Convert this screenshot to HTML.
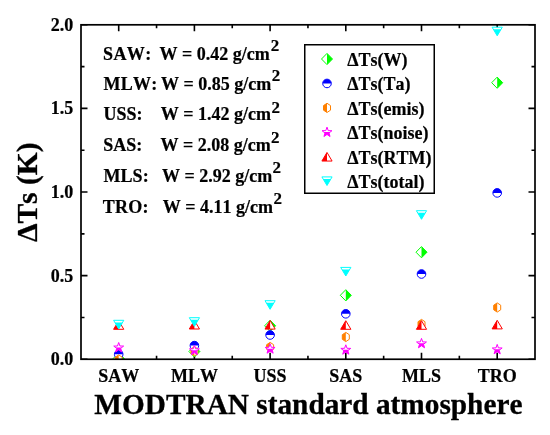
<!DOCTYPE html><html><head><meta charset="utf-8"><style>html,body{margin:0;padding:0;background:#fff;}svg{display:block;}text{font-family:"Liberation Serif","Times New Roman",serif;font-weight:bold;fill:#000;font-kerning:none;font-feature-settings:"kern" 0;stroke:#000;stroke-width:0.2px;}</style></head><body>
<svg width="550" height="435" viewBox="0 0 550 435">
<rect x="0" y="0" width="550" height="435" fill="#fff"/>
<text x="73.2" y="365.1" text-anchor="end" font-size="18">0.0</text>
<text x="73.2" y="281.5" text-anchor="end" font-size="18">0.5</text>
<text x="73.2" y="197.9" text-anchor="end" font-size="18">1.0</text>
<text x="73.2" y="114.3" text-anchor="end" font-size="18">1.5</text>
<text x="73.2" y="30.7" text-anchor="end" font-size="18">2.0</text>
<text x="118.7" y="381.9" text-anchor="middle" font-size="18">SAW</text>
<text x="194.4" y="381.9" text-anchor="middle" font-size="18">MLW</text>
<text x="270.1" y="381.9" text-anchor="middle" font-size="18">USS</text>
<text x="345.8" y="381.9" text-anchor="middle" font-size="18">SAS</text>
<text x="421.5" y="381.9" text-anchor="middle" font-size="18">MLS</text>
<text x="497.2" y="381.9" text-anchor="middle" font-size="18">TRO</text>
<text x="308.4" y="414.4" text-anchor="middle" font-size="29.3" style="stroke-width:0.3px">MODTRAN standard atmosphere</text>
<text transform="translate(37.1,192.3) rotate(-90)" text-anchor="middle" font-size="29.5" style="stroke-width:0.3px">ΔTs (K)</text>
<text x="103.1" y="60.0" font-size="18" letter-spacing="0.35">SAW:</text>
<text x="159.6" y="60.0" font-size="18">W = 0.42 g/cm</text>
<text x="270.8" y="51.0" font-size="17">2</text>
<text x="103.6" y="90.2" font-size="18" letter-spacing="0.25">MLW:</text>
<text x="161.0" y="90.2" font-size="18">W = 0.85 g/cm</text>
<text x="271.7" y="81.2" font-size="17">2</text>
<text x="103.6" y="120.4" font-size="18" letter-spacing="0">USS:</text>
<text x="160.8" y="120.4" font-size="18">W = 1.42 g/cm</text>
<text x="271.5" y="112.6" font-size="17">2</text>
<text x="103.2" y="150.7" font-size="18" letter-spacing="0">SAS:</text>
<text x="160.5" y="150.7" font-size="18">W = 2.08 g/cm</text>
<text x="271.0" y="142.6" font-size="17">2</text>
<text x="103.4" y="181.6" font-size="18" letter-spacing="0.1">MLS:</text>
<text x="162.0" y="181.6" font-size="18">W = 2.92 g/cm</text>
<text x="272.5" y="173.3" font-size="17">2</text>
<text x="102.7" y="212.5" font-size="18" letter-spacing="0.3">TRO:</text>
<text x="162.7" y="212.5" font-size="18">W = 4.11 g/cm</text>
<text x="273.5" y="204.3" font-size="17">2</text>
<rect x="304.75" y="44.75" width="129.5" height="148.5" fill="#fff" stroke="#000" stroke-width="1.5"/>
<polygon points="327.00,53.40 332.50,59.00 327.00,64.60 321.50,59.00" fill="#fff"/><polygon points="327.00,53.40 332.50,59.00 327.00,64.60" fill="#00ff00"/><polygon points="327.00,53.40 332.50,59.00 327.00,64.60 321.50,59.00" fill="none" stroke="#00ff00" stroke-width="1.0"/>
<text x="347.2" y="65.7" font-size="18">ΔTs(W)</text>
<circle cx="327.00" cy="83.44" r="4.3" fill="#fff"/><path d="M322.70,83.44 A4.3,4.3 0 0 1 331.30,83.44 Z" fill="#0000ff"/><circle cx="327.00" cy="83.44" r="4.3" fill="none" stroke="#0000ff" stroke-width="1.0"/>
<text x="347.2" y="90.1" font-size="18">ΔTs(Ta)</text>
<polygon points="327.00,103.28 330.50,105.58 330.50,110.18 327.00,112.48 323.50,110.18 323.50,105.58" fill="#fff"/><polygon points="327.00,103.28 327.00,112.48 323.50,110.18 323.50,105.58" fill="#ff8000"/><polygon points="327.00,103.28 330.50,105.58 330.50,110.18 327.00,112.48 323.50,110.18 323.50,105.58" fill="none" stroke="#ff8000" stroke-width="1.0"/>
<text x="347.2" y="114.6" font-size="18">ΔTs(emis)</text>
<polygon points="327.00,127.12 328.23,130.62 331.95,130.71 329.00,132.97 330.06,136.53 327.00,134.42 323.94,136.53 325.00,132.97 322.05,130.71 325.77,130.62" fill="#fff"/><polygon points="330.24,132.02 329.00,132.97 330.06,136.53 327.00,134.42 323.94,136.53 325.00,132.97 323.76,132.02" fill="#ff00ff"/><polygon points="327.00,127.12 328.23,130.62 331.95,130.71 329.00,132.97 330.06,136.53 327.00,134.42 323.94,136.53 325.00,132.97 322.05,130.71 325.77,130.62" fill="none" stroke="#ff00ff" stroke-width="1.0"/>
<text x="347.2" y="139.0" font-size="18">ΔTs(noise)</text>
<polygon points="327.00,152.46 332.10,161.06 321.90,161.06" fill="#fff"/><polygon points="327.00,152.46 327.00,161.06 321.90,161.06" fill="#ff0000"/><polygon points="327.00,152.46 332.10,161.06 321.90,161.06" fill="none" stroke="#ff0000" stroke-width="1.0"/>
<text x="347.2" y="163.5" font-size="18">ΔTs(RTM)</text>
<polygon points="321.90,176.90 332.10,176.90 327.00,185.50" fill="#fff"/><polygon points="330.85,179.00 327.00,185.50 323.15,179.00" fill="#00ffff"/><polygon points="321.90,176.90 332.10,176.90 327.00,185.50" fill="none" stroke="#00ffff" stroke-width="1.0"/>
<text x="347.2" y="187.9" font-size="18">ΔTs(total)</text>
<path d="M118.7,359.25 v-6.5 M118.7,24.8 v6.5 M156.55,359.25 v-3.5 M156.55,24.8 v3.5 M194.4,359.25 v-6.5 M194.4,24.8 v6.5 M232.25,359.25 v-3.5 M232.25,24.8 v3.5 M270.1,359.25 v-6.5 M270.1,24.8 v6.5 M307.95000000000005,359.25 v-3.5 M307.95000000000005,24.8 v3.5 M345.8,359.25 v-6.5 M345.8,24.8 v6.5 M383.65000000000003,359.25 v-3.5 M383.65000000000003,24.8 v3.5 M421.5,359.25 v-6.5 M421.5,24.8 v6.5 M459.35,359.25 v-3.5 M459.35,24.8 v3.5 M497.2,359.25 v-6.5 M497.2,24.8 v6.5 M81,359.25 h6.5 M535,359.25 h-6.5 M81,317.44375 h3.5 M535,317.44375 h-3.5 M81,275.6375 h6.5 M535,275.6375 h-6.5 M81,233.83125 h3.5 M535,233.83125 h-3.5 M81,192.025 h6.5 M535,192.025 h-6.5 M81,150.21875 h3.5 M535,150.21875 h-3.5 M81,108.41250000000002 h6.5 M535,108.41250000000002 h-6.5 M81,66.60624999999999 h3.5 M535,66.60624999999999 h-3.5 M81,24.80000000000001 h6.5 M535,24.80000000000001 h-6.5" stroke="#000" stroke-width="1.6" fill="none"/>
<clipPath id="pa"><rect x="81" y="24.8" width="454" height="334.45"/></clipPath><g clip-path="url(#pa)">
<polygon points="118.70,352.90 124.20,358.50 118.70,364.10 113.20,358.50" fill="#fff"/><polygon points="118.70,352.90 124.20,358.50 118.70,364.10" fill="#00ff00"/><polygon points="118.70,352.90 124.20,358.50 118.70,364.10 113.20,358.50" fill="none" stroke="#00ff00" stroke-width="1.0"/>
<polygon points="194.40,345.90 199.90,351.50 194.40,357.10 188.90,351.50" fill="#fff"/><polygon points="194.40,345.90 199.90,351.50 194.40,357.10" fill="#00ff00"/><polygon points="194.40,345.90 199.90,351.50 194.40,357.10 188.90,351.50" fill="none" stroke="#00ff00" stroke-width="1.0"/>
<polygon points="270.10,320.20 275.60,325.80 270.10,331.40 264.60,325.80" fill="#fff"/><polygon points="270.10,320.20 275.60,325.80 270.10,331.40" fill="#00ff00"/><polygon points="270.10,320.20 275.60,325.80 270.10,331.40 264.60,325.80" fill="none" stroke="#00ff00" stroke-width="1.0"/>
<polygon points="345.80,289.70 351.30,295.30 345.80,300.90 340.30,295.30" fill="#fff"/><polygon points="345.80,289.70 351.30,295.30 345.80,300.90" fill="#00ff00"/><polygon points="345.80,289.70 351.30,295.30 345.80,300.90 340.30,295.30" fill="none" stroke="#00ff00" stroke-width="1.0"/>
<polygon points="421.50,246.60 427.00,252.20 421.50,257.80 416.00,252.20" fill="#fff"/><polygon points="421.50,246.60 427.00,252.20 421.50,257.80" fill="#00ff00"/><polygon points="421.50,246.60 427.00,252.20 421.50,257.80 416.00,252.20" fill="none" stroke="#00ff00" stroke-width="1.0"/>
<polygon points="497.20,77.10 502.70,82.70 497.20,88.30 491.70,82.70" fill="#fff"/><polygon points="497.20,77.10 502.70,82.70 497.20,88.30" fill="#00ff00"/><polygon points="497.20,77.10 502.70,82.70 497.20,88.30 491.70,82.70" fill="none" stroke="#00ff00" stroke-width="1.0"/>
<circle cx="118.70" cy="354.30" r="4.3" fill="#fff"/><path d="M114.40,354.30 A4.3,4.3 0 0 1 123.00,354.30 Z" fill="#0000ff"/><circle cx="118.70" cy="354.30" r="4.3" fill="none" stroke="#0000ff" stroke-width="1.0"/>
<circle cx="194.40" cy="345.60" r="4.3" fill="#fff"/><path d="M190.10,345.60 A4.3,4.3 0 0 1 198.70,345.60 Z" fill="#0000ff"/><circle cx="194.40" cy="345.60" r="4.3" fill="none" stroke="#0000ff" stroke-width="1.0"/>
<circle cx="270.10" cy="335.00" r="4.3" fill="#fff"/><path d="M265.80,335.00 A4.3,4.3 0 0 1 274.40,335.00 Z" fill="#0000ff"/><circle cx="270.10" cy="335.00" r="4.3" fill="none" stroke="#0000ff" stroke-width="1.0"/>
<circle cx="345.80" cy="313.80" r="4.3" fill="#fff"/><path d="M341.50,313.80 A4.3,4.3 0 0 1 350.10,313.80 Z" fill="#0000ff"/><circle cx="345.80" cy="313.80" r="4.3" fill="none" stroke="#0000ff" stroke-width="1.0"/>
<circle cx="421.50" cy="274.00" r="4.3" fill="#fff"/><path d="M417.20,274.00 A4.3,4.3 0 0 1 425.80,274.00 Z" fill="#0000ff"/><circle cx="421.50" cy="274.00" r="4.3" fill="none" stroke="#0000ff" stroke-width="1.0"/>
<circle cx="497.20" cy="192.90" r="4.3" fill="#fff"/><path d="M492.90,192.90 A4.3,4.3 0 0 1 501.50,192.90 Z" fill="#0000ff"/><circle cx="497.20" cy="192.90" r="4.3" fill="none" stroke="#0000ff" stroke-width="1.0"/>
<polygon points="118.70,354.90 122.20,357.20 122.20,361.80 118.70,364.10 115.20,361.80 115.20,357.20" fill="#fff"/><polygon points="118.70,354.90 118.70,364.10 115.20,361.80 115.20,357.20" fill="#ff8000"/><polygon points="118.70,354.90 122.20,357.20 122.20,361.80 118.70,364.10 115.20,361.80 115.20,357.20" fill="none" stroke="#ff8000" stroke-width="1.0"/>
<polygon points="194.40,346.70 197.90,349.00 197.90,353.60 194.40,355.90 190.90,353.60 190.90,349.00" fill="#fff"/><polygon points="194.40,346.70 194.40,355.90 190.90,353.60 190.90,349.00" fill="#ff8000"/><polygon points="194.40,346.70 197.90,349.00 197.90,353.60 194.40,355.90 190.90,353.60 190.90,349.00" fill="none" stroke="#ff8000" stroke-width="1.0"/>
<polygon points="270.10,342.40 273.60,344.70 273.60,349.30 270.10,351.60 266.60,349.30 266.60,344.70" fill="#fff"/><polygon points="270.10,342.40 270.10,351.60 266.60,349.30 266.60,344.70" fill="#ff8000"/><polygon points="270.10,342.40 273.60,344.70 273.60,349.30 270.10,351.60 266.60,349.30 266.60,344.70" fill="none" stroke="#ff8000" stroke-width="1.0"/>
<polygon points="345.80,332.40 349.30,334.70 349.30,339.30 345.80,341.60 342.30,339.30 342.30,334.70" fill="#fff"/><polygon points="345.80,332.40 345.80,341.60 342.30,339.30 342.30,334.70" fill="#ff8000"/><polygon points="345.80,332.40 349.30,334.70 349.30,339.30 345.80,341.60 342.30,339.30 342.30,334.70" fill="none" stroke="#ff8000" stroke-width="1.0"/>
<polygon points="421.50,319.40 425.00,321.70 425.00,326.30 421.50,328.60 418.00,326.30 418.00,321.70" fill="#fff"/><polygon points="421.50,319.40 421.50,328.60 418.00,326.30 418.00,321.70" fill="#ff8000"/><polygon points="421.50,319.40 425.00,321.70 425.00,326.30 421.50,328.60 418.00,326.30 418.00,321.70" fill="none" stroke="#ff8000" stroke-width="1.0"/>
<polygon points="497.20,302.90 500.70,305.20 500.70,309.80 497.20,312.10 493.70,309.80 493.70,305.20" fill="#fff"/><polygon points="497.20,302.90 497.20,312.10 493.70,309.80 493.70,305.20" fill="#ff8000"/><polygon points="497.20,302.90 500.70,305.20 500.70,309.80 497.20,312.10 493.70,309.80 493.70,305.20" fill="none" stroke="#ff8000" stroke-width="1.0"/>
<polygon points="118.70,342.50 119.93,346.00 123.65,346.09 120.70,348.35 121.76,351.91 118.70,349.80 115.64,351.91 116.70,348.35 113.75,346.09 117.47,346.00" fill="#fff"/><polygon points="121.94,347.40 120.70,348.35 121.76,351.91 118.70,349.80 115.64,351.91 116.70,348.35 115.46,347.40" fill="#ff00ff"/><polygon points="118.70,342.50 119.93,346.00 123.65,346.09 120.70,348.35 121.76,351.91 118.70,349.80 115.64,351.91 116.70,348.35 113.75,346.09 117.47,346.00" fill="none" stroke="#ff00ff" stroke-width="1.0"/>
<polygon points="194.40,345.30 195.63,348.80 199.35,348.89 196.40,351.15 197.46,354.71 194.40,352.60 191.34,354.71 192.40,351.15 189.45,348.89 193.17,348.80" fill="#fff"/><polygon points="197.64,350.20 196.40,351.15 197.46,354.71 194.40,352.60 191.34,354.71 192.40,351.15 191.16,350.20" fill="#ff00ff"/><polygon points="194.40,345.30 195.63,348.80 199.35,348.89 196.40,351.15 197.46,354.71 194.40,352.60 191.34,354.71 192.40,351.15 189.45,348.89 193.17,348.80" fill="none" stroke="#ff00ff" stroke-width="1.0"/>
<polygon points="270.10,343.80 271.33,347.30 275.05,347.39 272.10,349.65 273.16,353.21 270.10,351.10 267.04,353.21 268.10,349.65 265.15,347.39 268.87,347.30" fill="#fff"/><polygon points="273.34,348.70 272.10,349.65 273.16,353.21 270.10,351.10 267.04,353.21 268.10,349.65 266.86,348.70" fill="#ff00ff"/><polygon points="270.10,343.80 271.33,347.30 275.05,347.39 272.10,349.65 273.16,353.21 270.10,351.10 267.04,353.21 268.10,349.65 265.15,347.39 268.87,347.30" fill="none" stroke="#ff00ff" stroke-width="1.0"/>
<polygon points="345.80,344.80 347.03,348.30 350.75,348.39 347.80,350.65 348.86,354.21 345.80,352.10 342.74,354.21 343.80,350.65 340.85,348.39 344.57,348.30" fill="#fff"/><polygon points="349.04,349.70 347.80,350.65 348.86,354.21 345.80,352.10 342.74,354.21 343.80,350.65 342.56,349.70" fill="#ff00ff"/><polygon points="345.80,344.80 347.03,348.30 350.75,348.39 347.80,350.65 348.86,354.21 345.80,352.10 342.74,354.21 343.80,350.65 340.85,348.39 344.57,348.30" fill="none" stroke="#ff00ff" stroke-width="1.0"/>
<polygon points="421.50,338.40 422.73,341.90 426.45,341.99 423.50,344.25 424.56,347.81 421.50,345.70 418.44,347.81 419.50,344.25 416.55,341.99 420.27,341.90" fill="#fff"/><polygon points="424.74,343.30 423.50,344.25 424.56,347.81 421.50,345.70 418.44,347.81 419.50,344.25 418.26,343.30" fill="#ff00ff"/><polygon points="421.50,338.40 422.73,341.90 426.45,341.99 423.50,344.25 424.56,347.81 421.50,345.70 418.44,347.81 419.50,344.25 416.55,341.99 420.27,341.90" fill="none" stroke="#ff00ff" stroke-width="1.0"/>
<polygon points="497.20,344.40 498.43,347.90 502.15,347.99 499.20,350.25 500.26,353.81 497.20,351.70 494.14,353.81 495.20,350.25 492.25,347.99 495.97,347.90" fill="#fff"/><polygon points="500.44,349.30 499.20,350.25 500.26,353.81 497.20,351.70 494.14,353.81 495.20,350.25 493.96,349.30" fill="#ff00ff"/><polygon points="497.20,344.40 498.43,347.90 502.15,347.99 499.20,350.25 500.26,353.81 497.20,351.70 494.14,353.81 495.20,350.25 492.25,347.99 495.97,347.90" fill="none" stroke="#ff00ff" stroke-width="1.0"/>
<polygon points="118.70,320.70 123.80,329.30 113.60,329.30" fill="#fff"/><polygon points="118.70,320.70 118.70,329.30 113.60,329.30" fill="#ff0000"/><polygon points="118.70,320.70 123.80,329.30 113.60,329.30" fill="none" stroke="#ff0000" stroke-width="1.0"/>
<polygon points="194.40,320.40 199.50,329.00 189.30,329.00" fill="#fff"/><polygon points="194.40,320.40 194.40,329.00 189.30,329.00" fill="#ff0000"/><polygon points="194.40,320.40 199.50,329.00 189.30,329.00" fill="none" stroke="#ff0000" stroke-width="1.0"/>
<polygon points="270.10,320.50 275.20,329.10 265.00,329.10" fill="#fff"/><polygon points="270.10,320.50 270.10,329.10 265.00,329.10" fill="#ff0000"/><polygon points="270.10,320.50 275.20,329.10 265.00,329.10" fill="none" stroke="#ff0000" stroke-width="1.0"/>
<polygon points="345.80,320.70 350.90,329.30 340.70,329.30" fill="#fff"/><polygon points="345.80,320.70 345.80,329.30 340.70,329.30" fill="#ff0000"/><polygon points="345.80,320.70 350.90,329.30 340.70,329.30" fill="none" stroke="#ff0000" stroke-width="1.0"/>
<polygon points="421.50,320.70 426.60,329.30 416.40,329.30" fill="#fff"/><polygon points="421.50,320.70 421.50,329.30 416.40,329.30" fill="#ff0000"/><polygon points="421.50,320.70 426.60,329.30 416.40,329.30" fill="none" stroke="#ff0000" stroke-width="1.0"/>
<polygon points="497.20,320.30 502.30,328.90 492.10,328.90" fill="#fff"/><polygon points="497.20,320.30 497.20,328.90 492.10,328.90" fill="#ff0000"/><polygon points="497.20,320.30 502.30,328.90 492.10,328.90" fill="none" stroke="#ff0000" stroke-width="1.0"/>
<polygon points="113.60,320.30 123.80,320.30 118.70,328.90" fill="#fff"/><polygon points="122.55,322.40 118.70,328.90 114.85,322.40" fill="#00ffff"/><polygon points="113.60,320.30 123.80,320.30 118.70,328.90" fill="none" stroke="#00ffff" stroke-width="1.0"/>
<polygon points="189.30,317.70 199.50,317.70 194.40,326.30" fill="#fff"/><polygon points="198.25,319.80 194.40,326.30 190.55,319.80" fill="#00ffff"/><polygon points="189.30,317.70 199.50,317.70 194.40,326.30" fill="none" stroke="#00ffff" stroke-width="1.0"/>
<polygon points="265.00,300.70 275.20,300.70 270.10,309.30" fill="#fff"/><polygon points="273.95,302.80 270.10,309.30 266.25,302.80" fill="#00ffff"/><polygon points="265.00,300.70 275.20,300.70 270.10,309.30" fill="none" stroke="#00ffff" stroke-width="1.0"/>
<polygon points="340.70,267.40 350.90,267.40 345.80,276.00" fill="#fff"/><polygon points="349.65,269.50 345.80,276.00 341.95,269.50" fill="#00ffff"/><polygon points="340.70,267.40 350.90,267.40 345.80,276.00" fill="none" stroke="#00ffff" stroke-width="1.0"/>
<polygon points="416.40,210.70 426.60,210.70 421.50,219.30" fill="#fff"/><polygon points="425.35,212.80 421.50,219.30 417.65,212.80" fill="#00ffff"/><polygon points="416.40,210.70 426.60,210.70 421.50,219.30" fill="none" stroke="#00ffff" stroke-width="1.0"/>
<polygon points="492.10,27.20 502.30,27.20 497.20,35.80" fill="#fff"/><polygon points="501.05,29.30 497.20,35.80 493.35,29.30" fill="#00ffff"/><polygon points="492.10,27.20 502.30,27.20 497.20,35.80" fill="none" stroke="#00ffff" stroke-width="1.0"/>
</g>
<rect x="81" y="24.8" width="454" height="334.45" fill="none" stroke="#000" stroke-width="1.7"/>
</svg></body></html>
